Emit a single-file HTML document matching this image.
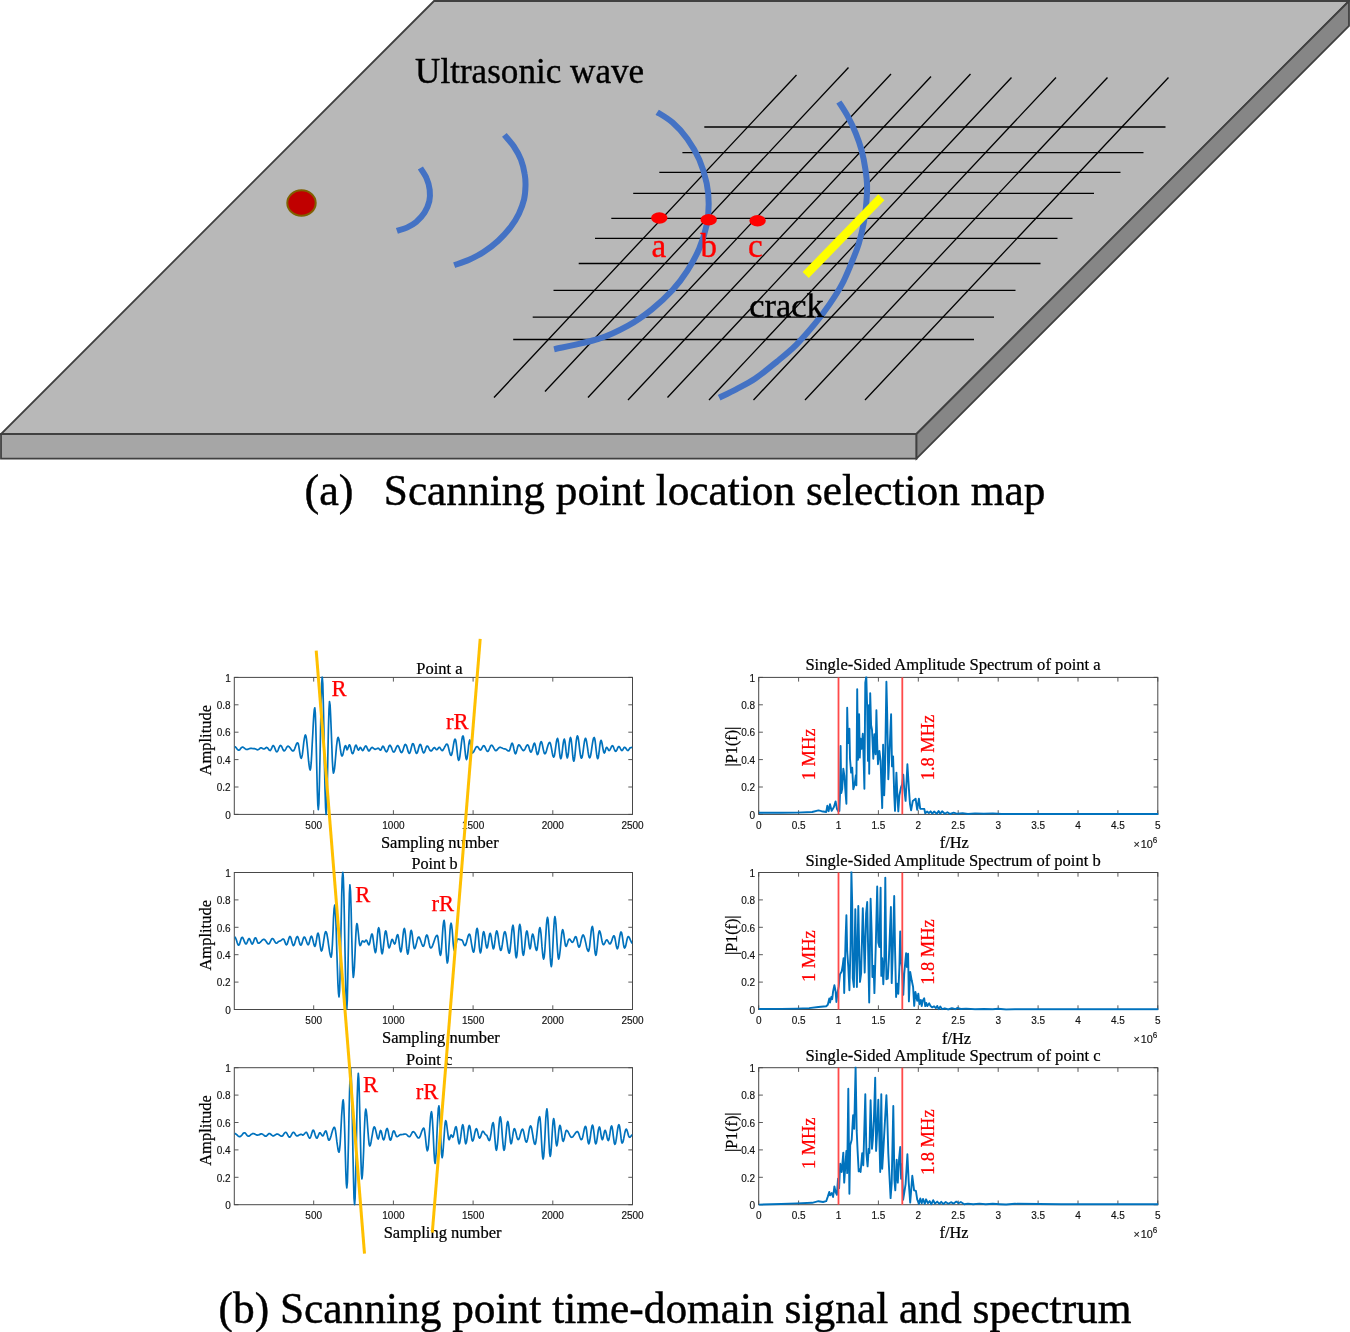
<!DOCTYPE html>
<html lang="en"><head><meta charset="utf-8"><title>Scanning point figure</title>
<style>
html,body{margin:0;padding:0;background:#fff;}
body{width:1350px;height:1332px;overflow:hidden;}
svg{display:block;font-family:"Liberation Serif","Times New Roman",serif;}
.sans{font-family:"Liberation Sans",Arial,sans-serif;}
</style></head><body>
<svg width="1350" height="1332" viewBox="0 0 1350 1332">
<rect x="0" y="0" width="1350" height="1332" fill="#ffffff"/>
<g stroke="#404040" stroke-width="1.8" stroke-linejoin="miter">
<polygon points="434,1 1349,1 916.5,434 1,434" fill="#b8b8b8"/>
<polygon points="1,434 916.5,434 916.5,458.6 1,458.6" fill="#a6a6a6"/>
<polygon points="916.5,434 1349,1 1349,26 916.5,458.6" fill="#868686"/>
</g>
<g stroke="#000" stroke-width="1.3" fill="none">
<line x1="704.3" y1="127.0" x2="1165.5" y2="127.0"/>
<line x1="682.4" y1="152.6" x2="1143.5" y2="152.6"/>
<line x1="659.3" y1="172.4" x2="1120.5" y2="172.4"/>
<line x1="633.2" y1="193.4" x2="1094.0" y2="193.4"/>
<line x1="611.3" y1="218.4" x2="1072.5" y2="218.4"/>
<line x1="595.0" y1="238.4" x2="1057.5" y2="238.4"/>
<line x1="578.7" y1="263.5" x2="1040.5" y2="263.5"/>
<line x1="553.5" y1="290.3" x2="1015.5" y2="290.3"/>
<line x1="532.7" y1="317.2" x2="994.0" y2="317.2"/>
<line x1="513.2" y1="339.5" x2="974.0" y2="339.5"/>
<line x1="494.0" y1="397.5" x2="796.5" y2="75.0"/>
<line x1="545.0" y1="391.5" x2="848.5" y2="67.5"/>
<line x1="588.0" y1="397.5" x2="891.0" y2="74.0"/>
<line x1="628.0" y1="400.0" x2="931.0" y2="76.5"/>
<line x1="667.5" y1="397.5" x2="970.5" y2="74.0"/>
<line x1="709.0" y1="400.0" x2="1011.5" y2="77.5"/>
<line x1="753.5" y1="400.0" x2="1056.0" y2="77.5"/>
<line x1="805.0" y1="400.0" x2="1107.5" y2="77.5"/>
<line x1="865.0" y1="400.0" x2="1168.5" y2="77.5"/>
</g>
<g stroke="#4472c4" stroke-width="6" fill="none">
<path d="M420.4 168.1C421.4 169.8 425.1 174.8 426.6 178.4C428.2 182.0 429.2 186.1 429.7 189.9C430.1 193.7 430.2 197.5 429.3 201.3C428.4 205.1 426.7 209.2 424.5 212.7C422.3 216.1 419.1 219.5 416.2 222.0C413.3 224.5 410.1 226.1 406.9 227.6C403.7 229.1 398.6 230.3 396.9 230.9"/>
<path d="M504.4 134.9C505.9 136.8 510.9 142.2 513.7 146.3C516.5 150.5 519.2 155.1 521.0 159.8C522.8 164.5 524.0 170.0 524.7 174.3C525.5 178.6 525.6 181.5 525.5 185.7C525.4 189.8 525.2 194.5 524.1 199.2C523.0 203.9 521.1 209.0 518.9 213.7C516.6 218.4 514.1 222.7 510.6 227.2C507.2 231.7 502.7 236.5 498.2 240.7C493.7 244.8 488.5 248.9 483.6 252.1C478.8 255.3 474.0 257.6 469.1 259.8C464.2 262.0 456.7 264.3 454.2 265.2"/>
<path d="M657.2 112.2C659.8 113.9 667.6 118.1 672.6 122.6C677.6 127.0 683.0 132.7 687.4 138.9C691.8 145.1 696.1 152.2 699.3 159.6C702.5 167.0 705.1 175.9 706.7 183.3C708.3 190.7 708.7 197.2 708.7 204.1C708.7 211.0 708.3 217.4 706.7 224.8C705.1 232.2 702.5 240.8 699.3 248.5C696.1 256.1 691.8 263.8 687.4 270.7C683.0 277.6 678.5 283.6 672.6 290.0C666.7 296.4 659.3 303.4 651.9 309.3C644.5 315.2 637.0 320.7 628.1 325.6C619.2 330.5 610.8 334.9 598.5 338.9C586.2 342.8 561.5 347.6 554.1 349.3"/>
<path d="M838.9 102.0C840.4 104.4 845.0 111.2 847.8 116.4C850.6 121.6 853.5 127.7 855.8 133.3C858.1 138.9 859.9 144.1 861.5 150.1C863.1 156.1 864.5 163.3 865.4 169.3C866.3 175.3 867.0 180.6 867.1 186.2C867.2 191.8 866.8 197.0 866.3 203.0C865.8 209.0 865.2 215.4 863.9 222.2C862.6 229.0 860.8 237.0 858.7 243.8C856.6 250.6 854.2 256.3 851.4 263.1C848.6 269.9 845.4 277.9 841.8 284.7C838.2 291.5 834.2 297.5 829.8 303.9C825.4 310.3 821.0 316.4 815.4 323.2C809.8 330.0 802.6 338.4 796.2 344.8C789.8 351.2 783.7 356.0 776.9 361.6C770.1 367.2 762.1 373.9 755.3 378.5C748.5 383.1 742.1 386.1 736.1 389.3C730.1 392.5 722.0 396.3 719.2 397.7"/>
</g>
<line x1="881.4" y1="197.2" x2="805.7" y2="275" stroke="#ffff00" stroke-width="8.6"/>
<ellipse cx="301.5" cy="203" rx="14.2" ry="12.8" fill="#c00000" stroke="#7f6000" stroke-width="2"/>
<ellipse cx="659.3" cy="218.0" rx="8.2" ry="5.7" fill="#ff0000"/>
<ellipse cx="708.7" cy="219.8" rx="8.2" ry="5.7" fill="#ff0000"/>
<ellipse cx="757.6" cy="220.7" rx="8.2" ry="5.7" fill="#ff0000"/>
<text x="415.1" y="82.8" font-size="35.1" stroke="#000" stroke-width="0.4" textLength="229" lengthAdjust="spacingAndGlyphs">Ultrasonic wave</text>
<text x="749.3" y="317.2" font-size="34.6" stroke="#000" stroke-width="0.4" textLength="74.5" lengthAdjust="spacingAndGlyphs">crack</text>
<g fill="#ff0000" font-size="33" stroke="#ff0000" stroke-width="0.35">
<text x="651.5" y="256.5">a</text><text x="700.5" y="256.5">b</text><text x="748" y="256.5">c</text>
</g>
<text x="304.5" y="505" font-size="44.2" stroke="#000" stroke-width="0.45">(a)</text>
<text x="383.8" y="505" font-size="44.2" stroke="#000" stroke-width="0.45" textLength="661.5" lengthAdjust="spacingAndGlyphs">Scanning point location selection map</text>
<rect x="234.3" y="677.4" width="398.2" height="137.0" fill="#fff" stroke="none"/>
<path d="M234.3 814.4 h4.2 M632.5 814.4 h-4.2 M234.3 787.0 h4.2 M632.5 787.0 h-4.2 M234.3 759.6 h4.2 M632.5 759.6 h-4.2 M234.3 732.2 h4.2 M632.5 732.2 h-4.2 M234.3 704.8 h4.2 M632.5 704.8 h-4.2 M234.3 677.4 h4.2 M632.5 677.4 h-4.2 M313.7 814.4 v-4.2 M313.7 677.4 v4.2 M393.4 814.4 v-4.2 M393.4 677.4 v4.2 M473.1 814.4 v-4.2 M473.1 677.4 v4.2 M552.8 814.4 v-4.2 M552.8 677.4 v4.2 M632.5 814.4 v-4.2 M632.5 677.4 v4.2" stroke="#484848" stroke-width="0.9" fill="none"/>
<g class="sans" font-size="10" fill="#111" stroke="#111" stroke-width="0.15">
<text x="230.7" y="818.6" text-anchor="end">0</text>
<text x="230.7" y="791.2" text-anchor="end">0.2</text>
<text x="230.7" y="763.8" text-anchor="end">0.4</text>
<text x="230.7" y="736.4" text-anchor="end">0.6</text>
<text x="230.7" y="709.0" text-anchor="end">0.8</text>
<text x="230.7" y="681.6" text-anchor="end">1</text>
<text x="313.7" y="829.0" text-anchor="middle">500</text>
<text x="393.4" y="829.0" text-anchor="middle">1000</text>
<text x="473.1" y="829.0" text-anchor="middle">1500</text>
<text x="552.8" y="829.0" text-anchor="middle">2000</text>
<text x="632.5" y="829.0" text-anchor="middle">2500</text>
</g>
<clipPath id="cl0"><rect x="234.3" y="676.4" width="398.2" height="139.0"/></clipPath>
<rect x="234.3" y="677.4" width="398.2" height="137.0" fill="none" stroke="#484848" stroke-width="1"/>
<polyline fill="none" stroke="#0072bd" stroke-width="1.7" stroke-linejoin="round" clip-path="url(#cl0)" points="234.6,746.7 235.1,746.8 235.7,747.2 236.2,747.8 236.7,748.5 237.2,749.1 237.7,749.7 238.2,750.1 238.7,750.2 239.2,750.1 239.8,749.7 240.3,749.0 240.8,748.3 241.4,747.7 241.9,747.3 242.4,747.1 243.0,747.2 243.5,747.5 244.1,747.9 244.6,748.3 245.1,748.7 245.7,749.1 246.2,749.4 246.8,749.5 247.3,749.4 247.9,749.3 248.4,749.0 249.0,748.8 249.6,748.6 250.1,748.4 250.7,748.4 251.2,748.4 251.8,748.4 252.3,748.5 252.9,748.6 253.4,748.6 254.0,748.7 254.6,748.7 255.1,748.8 255.6,749.0 256.1,749.2 256.6,749.5 257.1,749.7 257.7,749.8 258.2,749.6 258.8,749.3 259.4,748.8 259.9,748.3 260.5,747.9 261.1,747.8 261.6,747.9 262.2,748.2 262.8,748.6 263.3,748.9 263.9,749.0 264.4,748.9 265.0,748.5 265.6,748.0 266.1,747.6 266.7,747.4 267.3,747.7 267.8,748.2 268.4,749.0 269.0,749.8 269.5,750.3 270.1,750.6 270.6,750.2 271.1,749.3 271.7,748.1 272.2,746.8 272.7,745.9 273.2,745.6 273.7,745.9 274.2,746.7 274.8,748.0 275.3,749.4 275.8,750.6 276.3,751.5 276.8,751.8 277.3,751.5 277.9,750.6 278.4,749.3 278.9,747.9 279.5,746.6 280.0,745.7 280.5,745.4 281.0,745.7 281.6,746.4 282.1,747.5 282.6,748.7 283.1,749.8 283.6,750.6 284.1,750.9 284.7,750.6 285.2,750.0 285.8,749.1 286.3,748.0 286.9,747.1 287.4,746.4 288.0,746.2 288.5,746.3 289.0,746.7 289.5,747.2 290.1,747.9 290.6,748.6 291.1,749.4 291.6,750.0 292.1,750.6 292.6,750.9 293.1,751.0 293.6,750.8 294.1,750.1 294.6,749.0 295.1,747.6 295.6,746.2 296.1,744.8 296.6,743.7 297.1,743.0 297.6,742.8 298.2,743.5 298.7,745.7 299.2,748.8 299.7,752.3 300.2,755.4 300.7,757.6 301.2,758.3 301.7,757.4 302.3,754.9 302.8,751.1 303.3,746.7 303.8,742.2 304.4,738.4 304.9,735.9 305.4,735.0 306.0,736.1 306.5,739.1 307.0,743.7 307.6,749.5 308.1,755.5 308.6,761.2 309.2,765.9 309.7,768.9 310.2,770.0 310.7,768.1 311.2,762.7 311.7,754.4 312.2,744.3 312.8,733.5 313.3,723.3 313.8,715.1 314.3,709.7 314.8,707.8 315.3,712.8 315.8,727.0 316.3,747.4 316.8,770.1 317.3,790.5 317.8,804.6 318.3,809.7 318.9,803.1 319.4,784.6 320.0,758.0 320.6,728.4 321.1,701.7 321.7,683.3 322.2,676.7 322.8,683.5 323.3,702.6 323.9,730.3 324.4,761.0 325.0,788.7 325.6,807.8 326.1,814.6 326.7,807.1 327.3,786.4 327.8,758.1 328.4,729.8 329.0,709.1 329.5,701.6 330.1,705.1 330.6,715.0 331.2,729.4 331.8,745.3 332.3,759.6 332.9,769.6 333.4,773.1 333.9,772.0 334.5,768.9 335.0,764.2 335.5,758.3 336.0,752.1 336.5,746.3 337.1,741.5 337.6,738.4 338.1,737.3 338.6,738.3 339.2,740.8 339.8,744.6 340.3,748.7 340.9,752.5 341.4,755.1 342.0,756.0 342.5,755.5 343.0,754.0 343.5,751.9 344.0,749.6 344.5,747.5 345.0,746.1 345.6,745.6 346.1,746.6 346.6,748.7 347.1,749.8 347.7,749.0 348.3,747.3 348.9,745.5 349.4,744.8 350.0,745.4 350.5,747.0 351.0,749.2 351.5,751.4 352.0,753.1 352.6,753.7 353.1,753.1 353.7,751.5 354.3,749.4 354.8,747.2 355.4,745.7 356.0,745.1 356.6,745.9 357.2,747.7 357.8,749.5 358.5,750.2 359.1,749.5 359.7,748.1 360.3,747.4 360.9,747.9 361.5,749.0 362.1,750.1 362.7,750.6 363.2,750.2 363.7,749.4 364.2,748.2 364.7,747.1 365.3,746.2 365.8,745.9 366.3,746.2 366.8,747.2 367.3,748.5 367.9,749.7 368.4,750.7 368.9,751.0 369.4,750.8 369.9,750.1 370.4,749.2 371.0,748.3 371.5,747.7 372.0,747.4 372.5,747.6 373.0,747.9 373.6,748.4 374.1,748.8 374.6,749.2 375.1,749.3 375.6,749.2 376.1,749.0 376.7,748.8 377.2,748.5 377.7,748.3 378.2,748.2 378.8,748.5 379.4,749.2 380.0,749.9 380.6,750.2 381.1,749.7 381.7,748.2 382.3,746.8 382.9,746.2 383.4,746.5 383.9,747.3 384.4,748.4 384.9,749.6 385.4,750.7 386.0,751.5 386.5,751.8 387.0,751.4 387.6,750.2 388.2,748.5 388.7,746.9 389.3,745.7 389.9,745.3 390.4,745.6 391.0,746.6 391.6,747.9 392.1,749.5 392.7,750.8 393.2,751.8 393.8,752.1 394.3,751.8 394.9,750.9 395.4,749.6 396.0,748.1 396.6,746.8 397.1,745.9 397.7,745.6 398.2,745.9 398.8,746.9 399.3,748.3 399.9,749.9 400.4,751.3 401.0,752.2 401.6,752.6 402.1,752.2 402.7,751.0 403.2,749.4 403.8,747.5 404.3,745.9 404.9,744.7 405.4,744.3 406.0,744.8 406.6,746.0 407.1,747.8 407.7,749.8 408.2,751.7 408.8,752.9 409.3,753.4 409.8,752.9 410.4,751.5 410.9,749.5 411.4,747.4 411.9,745.4 412.4,744.0 412.9,743.6 413.4,744.0 414.0,745.4 414.5,747.4 415.0,749.5 415.6,751.5 416.1,752.9 416.6,753.4 417.2,752.9 417.7,751.7 418.2,749.8 418.7,747.8 419.2,746.0 419.7,744.8 420.2,744.3 420.8,744.9 421.4,746.5 421.9,748.6 422.5,750.7 423.1,752.3 423.6,752.9 424.2,752.5 424.7,751.6 425.2,750.2 425.7,748.7 426.2,747.3 426.8,746.3 427.3,746.0 427.8,746.2 428.3,746.9 428.8,748.0 429.3,749.1 429.8,750.1 430.4,750.8 430.9,751.0 431.4,750.9 431.9,750.4 432.4,749.7 432.9,749.0 433.4,748.3 433.9,747.8 434.5,747.6 435.0,747.9 435.6,748.7 436.2,749.4 436.7,749.7 437.3,749.5 437.8,748.9 438.3,748.1 438.8,747.5 439.3,747.3 439.9,747.6 440.4,748.4 441.0,749.4 441.6,750.2 442.1,750.6 442.7,750.4 443.2,749.8 443.7,748.9 444.3,747.9 444.8,746.7 445.4,745.7 445.9,744.8 446.5,744.2 447.0,744.0 447.5,744.5 448.0,745.7 448.5,747.6 449.0,749.7 449.5,751.9 450.1,753.8 450.6,755.0 451.1,755.4 451.6,754.8 452.1,753.1 452.6,750.4 453.1,747.3 453.6,744.2 454.1,741.5 454.6,739.8 455.1,739.1 455.7,740.2 456.2,743.1 456.7,747.4 457.2,752.1 457.7,756.3 458.2,759.3 458.7,760.3 459.3,759.4 459.8,756.8 460.3,752.8 460.9,748.1 461.4,743.4 461.9,739.5 462.4,736.8 463.0,735.9 463.5,737.1 464.0,740.3 464.5,745.1 465.0,750.3 465.5,755.1 466.0,758.3 466.6,759.5 467.1,758.2 467.6,754.6 468.2,749.7 468.7,744.9 469.3,741.3 469.8,740.0 470.4,741.9 471.0,746.5 471.6,751.1 472.3,753.0 472.8,752.8 473.3,752.2 473.9,751.4 474.4,750.3 475.0,749.2 475.5,748.1 476.1,747.2 476.6,746.7 477.1,746.5 477.7,746.7 478.2,747.4 478.8,748.3 479.3,749.2 479.9,749.8 480.4,750.1 481.0,749.8 481.5,749.0 482.0,747.9 482.6,746.8 483.1,746.0 483.7,745.7 484.2,745.9 484.7,746.5 485.2,747.4 485.7,748.5 486.2,749.6 486.7,750.5 487.2,751.2 487.7,751.4 488.3,751.1 488.8,750.2 489.3,749.0 489.9,747.6 490.4,746.3 491.0,745.5 491.5,745.2 492.0,745.4 492.6,746.0 493.1,746.8 493.7,747.9 494.2,748.9 494.8,749.8 495.3,750.4 495.9,750.6 496.4,750.4 496.9,750.1 497.4,749.5 497.9,748.9 498.4,748.3 498.9,747.8 499.5,747.4 500.0,747.3 500.5,747.3 501.0,747.5 501.6,747.7 502.1,748.0 502.7,748.3 503.2,748.5 503.8,748.7 504.3,748.9 504.9,748.9 505.4,749.0 505.9,749.2 506.4,749.6 506.9,750.0 507.4,750.4 507.9,750.7 508.4,751.0 508.9,751.0 509.5,750.5 510.0,749.1 510.6,747.1 511.1,745.2 511.6,743.7 512.2,743.2 512.7,743.9 513.3,745.9 513.8,748.5 514.4,751.2 514.9,753.1 515.4,753.8 516.0,753.2 516.5,751.6 517.1,749.3 517.6,747.1 518.2,745.5 518.7,744.9 519.2,745.0 519.8,745.5 520.3,746.3 520.9,747.2 521.4,748.2 522.0,749.1 522.5,749.9 523.0,750.4 523.6,750.6 524.1,750.3 524.6,749.7 525.1,748.8 525.6,747.7 526.1,746.6 526.6,745.7 527.2,745.1 527.7,744.9 528.2,745.3 528.8,746.7 529.3,748.5 529.8,750.4 530.4,751.7 530.9,752.2 531.4,751.7 531.9,750.5 532.5,748.7 533.0,746.7 533.5,744.9 534.0,743.7 534.5,743.2 535.1,744.3 535.7,747.2 536.3,750.7 536.9,753.5 537.4,754.6 538.0,754.0 538.5,752.2 539.1,749.6 539.6,746.7 540.1,744.0 540.7,742.2 541.2,741.6 541.7,742.2 542.2,743.9 542.7,746.3 543.2,749.1 543.8,751.5 544.3,753.2 544.8,753.8 545.3,753.5 545.9,752.5 546.4,751.0 546.9,749.1 547.5,747.1 548.0,745.3 548.6,743.7 549.1,742.8 549.7,742.4 550.2,743.0 550.7,744.6 551.2,746.9 551.7,749.7 552.2,752.5 552.7,754.9 553.2,756.5 553.7,757.1 554.3,756.1 554.8,753.5 555.3,749.8 555.9,745.6 556.4,741.9 557.0,739.3 557.5,738.3 558.0,739.7 558.6,743.4 559.1,748.5 559.7,753.6 560.2,757.3 560.7,758.7 561.3,757.7 561.8,755.0 562.3,751.1 562.8,746.7 563.3,742.8 563.8,740.1 564.3,739.1 564.9,740.9 565.5,745.6 566.1,751.4 566.7,756.1 567.3,757.9 567.8,756.5 568.4,752.8 568.9,747.7 569.4,742.6 570.0,738.9 570.5,737.5 571.1,739.1 571.6,743.4 572.2,749.3 572.7,755.2 573.2,759.6 573.8,761.1 574.3,759.9 574.8,756.4 575.3,751.3 575.8,745.7 576.3,740.6 576.9,737.1 577.4,735.9 577.9,736.7 578.4,739.2 578.9,742.8 579.4,747.1 579.9,751.3 580.4,754.9 580.9,757.4 581.4,758.2 582.0,757.5 582.5,755.3 583.0,752.1 583.5,748.3 584.0,744.5 584.5,741.2 585.0,739.1 585.5,738.3 586.0,739.1 586.5,741.2 587.0,744.4 587.6,748.1 588.1,751.9 588.6,755.0 589.1,757.1 589.6,757.9 590.1,757.3 590.6,755.5 591.1,752.8 591.6,749.5 592.1,745.9 592.6,742.6 593.1,739.9 593.6,738.1 594.2,737.5 594.7,738.6 595.2,741.5 595.7,745.8 596.2,750.5 596.7,754.7 597.2,757.7 597.7,758.7 598.3,757.5 598.8,754.1 599.4,749.5 599.9,744.9 600.5,741.5 601.0,740.3 601.5,741.1 602.1,743.5 602.6,746.6 603.2,749.8 603.7,752.1 604.3,753.0 604.9,752.2 605.5,750.1 606.1,748.1 606.7,747.3 607.3,747.8 607.9,748.9 608.5,750.1 609.1,750.6 609.7,750.2 610.2,749.3 610.8,748.1 611.3,746.9 611.9,746.0 612.4,745.7 612.9,746.0 613.5,747.1 614.0,748.5 614.6,749.9 615.1,751.0 615.7,751.4 616.2,751.0 616.8,750.1 617.3,748.9 617.8,747.7 618.4,746.8 618.9,746.5 619.5,746.9 620.1,747.9 620.7,749.1 621.3,750.2 621.9,750.6 622.4,750.2 623.0,749.4 623.5,748.4 624.1,747.6 624.6,747.3 625.2,747.5 625.7,748.1 626.3,748.9 626.8,749.7 627.3,750.3 627.9,750.6 628.5,750.1 629.1,749.2 629.7,748.2 630.3,747.8 630.9,747.7 631.4,747.5 631.9,747.4 632.5,747.3"/>
<rect x="758.7" y="677.4" width="399.1" height="137.0" fill="#fff" stroke="none"/>
<path d="M758.7 814.4 h4.2 M1157.8 814.4 h-4.2 M758.7 787.0 h4.2 M1157.8 787.0 h-4.2 M758.7 759.6 h4.2 M1157.8 759.6 h-4.2 M758.7 732.2 h4.2 M1157.8 732.2 h-4.2 M758.7 704.8 h4.2 M1157.8 704.8 h-4.2 M758.7 677.4 h4.2 M1157.8 677.4 h-4.2 M758.7 814.4 v-4.2 M758.7 677.4 v4.2 M798.6 814.4 v-4.2 M798.6 677.4 v4.2 M838.5 814.4 v-4.2 M838.5 677.4 v4.2 M878.4 814.4 v-4.2 M878.4 677.4 v4.2 M918.3 814.4 v-4.2 M918.3 677.4 v4.2 M958.2 814.4 v-4.2 M958.2 677.4 v4.2 M998.2 814.4 v-4.2 M998.2 677.4 v4.2 M1038.1 814.4 v-4.2 M1038.1 677.4 v4.2 M1078.0 814.4 v-4.2 M1078.0 677.4 v4.2 M1117.9 814.4 v-4.2 M1117.9 677.4 v4.2 M1157.8 814.4 v-4.2 M1157.8 677.4 v4.2" stroke="#484848" stroke-width="0.9" fill="none"/>
<g class="sans" font-size="10" fill="#111" stroke="#111" stroke-width="0.15">
<text x="755.1" y="818.6" text-anchor="end">0</text>
<text x="755.1" y="791.2" text-anchor="end">0.2</text>
<text x="755.1" y="763.8" text-anchor="end">0.4</text>
<text x="755.1" y="736.4" text-anchor="end">0.6</text>
<text x="755.1" y="709.0" text-anchor="end">0.8</text>
<text x="755.1" y="681.6" text-anchor="end">1</text>
<text x="758.7" y="829.0" text-anchor="middle">0</text>
<text x="798.6" y="829.0" text-anchor="middle">0.5</text>
<text x="838.5" y="829.0" text-anchor="middle">1</text>
<text x="878.4" y="829.0" text-anchor="middle">1.5</text>
<text x="918.3" y="829.0" text-anchor="middle">2</text>
<text x="958.2" y="829.0" text-anchor="middle">2.5</text>
<text x="998.2" y="829.0" text-anchor="middle">3</text>
<text x="1038.1" y="829.0" text-anchor="middle">3.5</text>
<text x="1078.0" y="829.0" text-anchor="middle">4</text>
<text x="1117.9" y="829.0" text-anchor="middle">4.5</text>
<text x="1157.8" y="829.0" text-anchor="middle">5</text>
</g>
<clipPath id="cr0"><rect x="758.7" y="676.4" width="400.1" height="139.2"/></clipPath>
<rect x="758.7" y="677.4" width="399.1" height="137.0" fill="none" stroke="#484848" stroke-width="1"/>
<polyline fill="none" stroke="#0072bd" stroke-width="1.9" stroke-linejoin="round" clip-path="url(#cr0)" points="758.6,812.8 781.1,812.8 796.7,812.6 812.2,812.0 818.4,810.4 821.6,811.2 826.2,812.0 827.3,805.8 828.6,811.2 830.0,804.2 831.7,810.9 833.9,807.0 835.6,801.4 836.9,808.7 838.3,811.4 839.4,810.9 840.0,794.2 840.6,745.9 841.3,793.1 842.2,788.7 843.3,768.7 844.4,775.9 845.3,789.8 846.4,803.7 847.2,707.8 848.0,743.1 849.4,728.7 850.0,758.7 851.1,772.6 852.2,767.6 853.3,789.2 854.7,784.2 855.8,775.3 856.4,785.3 857.2,689.2 858.0,759.8 859.1,714.2 859.8,757.6 860.6,738.7 861.7,748.7 862.8,733.7 863.3,747.6 864.4,788.7 865.3,682.6 866.3,676.7 867.2,708.7 868.0,760.9 868.9,705.3 869.2,773.7 870.2,693.1 871.1,725.3 872.0,729.8 873.3,758.7 874.4,734.2 875.6,754.2 876.4,710.3 877.2,743.1 878.0,764.2 879.4,750.9 880.6,760.9 881.3,783.1 882.2,808.1 883.1,744.8 884.2,795.3 885.0,772.0 886.4,681.8 887.2,714.2 888.3,779.2 889.4,754.2 891.1,714.2 892.0,766.4 893.1,756.4 894.2,794.2 895.0,810.9 896.4,772.6 897.2,792.0 898.3,811.4 899.4,795.3 901.1,787.0 902.2,784.2 903.3,774.8 904.2,788.7 905.6,800.9 907.4,764.2 908.9,788.7 910.0,804.2 911.1,810.3 912.8,800.9 915.6,798.7 917.2,809.8 918.9,798.7 920.2,808.7 924.3,808.9 925.2,813.3 927.0,811.6 928.8,813.1 930.6,811.3 932.3,813.6 934.1,811.6 936.8,813.8 938.6,811.1 940.3,813.6 942.1,811.3 944.8,813.8 947.4,812.2 950.1,814.0 953.7,812.7 957.2,813.8 962.6,813.1 967.9,814.0 975.0,813.4 983.9,813.8 992.8,813.4 1001.7,814.0 1015.0,814.0 1061.1,814.0 1107.8,814.0 1158.3,814.0"/>
<line x1="838.5" y1="677.4" x2="838.5" y2="814.4" stroke="#ff4a4a" stroke-width="1.8"/>
<line x1="902.3" y1="677.4" x2="902.3" y2="814.4" stroke="#ff4a4a" stroke-width="1.8"/>
<text class="sans" font-size="10.8" fill="#111" stroke="#111" stroke-width="0.15" y="847.5"><tspan x="1133.4">×</tspan><tspan x="1140.8">10</tspan><tspan x="1152.7" font-size="8.2" dy="-4.8">6</tspan></text>
<text x="416.3" y="673.6" font-size="16.4" textLength="46.3" lengthAdjust="spacingAndGlyphs" stroke="#000" stroke-width="0.22">Point a</text>
<text x="380.9" y="848.4" font-size="16.5" textLength="117.8" lengthAdjust="spacingAndGlyphs" stroke="#000" stroke-width="0.22">Sampling number</text>
<text transform="translate(211.4 775.5) rotate(-90)" font-size="16.5" textLength="70.6" lengthAdjust="spacingAndGlyphs" stroke="#000" stroke-width="0.22">Amplitude</text>
<text x="805.4" y="670.4" font-size="16.5" textLength="295.3" lengthAdjust="spacingAndGlyphs" stroke="#000" stroke-width="0.22">Single-Sided Amplitude Spectrum of point a</text>
<text x="939.8" y="848.3" font-size="16.5" textLength="29" lengthAdjust="spacingAndGlyphs" stroke="#000" stroke-width="0.22">f/Hz</text>
<text transform="translate(737 766.4) rotate(-90)" font-size="16.5" textLength="39.7" lengthAdjust="spacingAndGlyphs" stroke="#000" stroke-width="0.22">|P1(f)|</text>
<rect x="234.3" y="872.5" width="398.2" height="137.0" fill="#fff" stroke="none"/>
<path d="M234.3 1009.5 h4.2 M632.5 1009.5 h-4.2 M234.3 982.1 h4.2 M632.5 982.1 h-4.2 M234.3 954.7 h4.2 M632.5 954.7 h-4.2 M234.3 927.3 h4.2 M632.5 927.3 h-4.2 M234.3 899.9 h4.2 M632.5 899.9 h-4.2 M234.3 872.5 h4.2 M632.5 872.5 h-4.2 M313.7 1009.5 v-4.2 M313.7 872.5 v4.2 M393.4 1009.5 v-4.2 M393.4 872.5 v4.2 M473.1 1009.5 v-4.2 M473.1 872.5 v4.2 M552.8 1009.5 v-4.2 M552.8 872.5 v4.2 M632.5 1009.5 v-4.2 M632.5 872.5 v4.2" stroke="#484848" stroke-width="0.9" fill="none"/>
<g class="sans" font-size="10" fill="#111" stroke="#111" stroke-width="0.15">
<text x="230.7" y="1013.7" text-anchor="end">0</text>
<text x="230.7" y="986.3" text-anchor="end">0.2</text>
<text x="230.7" y="958.9" text-anchor="end">0.4</text>
<text x="230.7" y="931.5" text-anchor="end">0.6</text>
<text x="230.7" y="904.1" text-anchor="end">0.8</text>
<text x="230.7" y="876.7" text-anchor="end">1</text>
<text x="313.7" y="1024.1" text-anchor="middle">500</text>
<text x="393.4" y="1024.1" text-anchor="middle">1000</text>
<text x="473.1" y="1024.1" text-anchor="middle">1500</text>
<text x="552.8" y="1024.1" text-anchor="middle">2000</text>
<text x="632.5" y="1024.1" text-anchor="middle">2500</text>
</g>
<clipPath id="cl1"><rect x="234.3" y="871.5" width="398.2" height="139.0"/></clipPath>
<rect x="234.3" y="872.5" width="398.2" height="137.0" fill="none" stroke="#484848" stroke-width="1"/>
<polyline fill="none" stroke="#0072bd" stroke-width="1.7" stroke-linejoin="round" clip-path="url(#cl1)" points="234.6,937.0 235.1,937.3 235.7,938.2 236.2,939.5 236.7,941.1 237.2,942.7 237.7,944.0 238.2,944.9 238.7,945.2 239.3,944.7 239.8,943.3 240.4,941.3 241.0,939.3 241.5,937.8 242.1,937.3 242.7,937.6 243.2,938.6 243.8,939.9 244.3,941.4 244.9,942.7 245.4,943.7 246.0,944.0 246.5,943.6 247.0,942.6 247.6,941.3 248.1,939.9 248.6,938.9 249.1,938.6 249.6,938.9 250.1,939.9 250.7,941.3 251.2,942.6 251.7,943.6 252.2,944.0 252.7,943.6 253.3,942.4 253.8,940.9 254.3,939.3 254.8,938.2 255.3,937.8 255.9,938.1 256.4,939.1 256.9,940.5 257.4,941.9 257.9,942.9 258.4,943.2 259.0,943.1 259.5,942.9 260.1,942.4 260.6,941.9 261.2,941.3 261.7,940.7 262.3,940.1 262.8,939.7 263.3,939.4 263.9,939.3 264.4,939.5 264.9,939.9 265.4,940.5 266.0,941.3 266.5,942.1 267.0,942.8 267.5,943.5 268.0,943.9 268.6,944.0 269.1,943.7 269.7,943.0 270.2,941.9 270.8,940.7 271.3,939.6 271.9,938.8 272.4,938.6 273.0,938.8 273.6,939.4 274.1,940.4 274.7,941.4 275.2,942.3 275.8,943.0 276.3,943.2 276.9,943.1 277.4,942.7 277.9,942.2 278.4,941.7 278.9,941.3 279.4,941.2 280.0,941.1 280.6,940.8 281.1,940.4 281.7,939.9 282.2,939.4 282.8,939.1 283.3,939.0 283.9,939.4 284.4,940.5 284.9,941.9 285.4,943.3 285.9,944.4 286.4,944.8 287.0,944.4 287.5,943.2 288.0,941.6 288.5,939.7 289.0,938.1 289.5,936.9 290.0,936.5 290.6,937.1 291.2,938.8 291.7,941.0 292.3,943.3 292.9,945.0 293.4,945.6 294.0,945.1 294.6,943.9 295.1,942.0 295.7,940.0 296.2,938.2 296.8,937.0 297.3,936.5 297.9,937.1 298.5,938.7 299.0,940.9 299.6,943.1 300.2,944.7 300.8,945.2 301.3,944.8 301.8,943.7 302.3,942.0 302.8,940.2 303.3,938.6 303.8,937.4 304.3,937.0 304.9,937.4 305.4,938.5 306.0,940.0 306.6,941.8 307.1,943.3 307.7,944.4 308.2,944.8 308.7,944.2 309.3,942.6 309.8,940.5 310.3,938.4 310.8,936.8 311.3,936.2 311.8,936.7 312.4,938.1 312.9,940.2 313.4,942.4 313.9,944.4 314.4,945.8 314.9,946.3 315.4,945.4 315.9,943.0 316.5,939.7 317.0,936.4 317.5,934.0 318.0,933.1 318.6,934.3 319.2,937.6 319.7,942.1 320.3,946.5 320.9,949.8 321.4,951.0 322.0,950.3 322.5,948.2 323.1,945.0 323.6,941.3 324.2,937.6 324.7,934.4 325.3,932.3 325.8,931.6 326.3,932.2 326.9,934.0 327.4,936.8 328.0,940.4 328.5,944.4 329.1,948.4 329.6,951.9 330.2,954.8 330.7,956.6 331.2,957.2 331.8,953.7 332.4,944.2 333.0,931.2 333.5,918.1 334.1,908.6 334.7,905.1 335.2,908.6 335.8,918.6 336.3,933.4 336.8,951.0 337.4,968.6 337.9,983.4 338.5,993.4 339.0,996.9 339.6,990.7 340.1,973.4 340.6,948.4 341.2,920.6 341.7,895.6 342.2,878.3 342.8,872.1 343.3,877.3 343.8,892.1 344.3,914.2 344.8,940.3 345.3,966.4 345.8,988.6 346.3,1003.4 346.8,1008.6 347.3,1000.3 347.8,977.6 348.4,946.7 348.9,915.8 349.4,893.2 349.9,884.9 350.5,891.1 351.1,908.0 351.6,931.2 352.2,954.3 352.8,971.2 353.3,977.4 353.8,974.8 354.4,967.3 354.9,956.5 355.4,944.4 355.9,933.6 356.4,926.1 356.9,923.5 357.4,924.9 357.9,929.0 358.5,934.5 359.0,940.0 359.5,944.1 360.0,945.6 360.6,945.1 361.1,943.9 361.6,942.5 362.1,941.3 362.7,940.9 363.2,941.2 363.7,941.8 364.2,942.1 364.7,941.8 365.2,941.1 365.7,940.4 366.2,940.1 366.8,940.6 367.3,941.7 367.8,943.2 368.4,944.3 368.9,944.8 369.4,944.0 369.9,942.1 370.4,939.3 371.0,936.6 371.5,934.6 372.0,933.9 372.6,935.1 373.1,938.6 373.7,943.2 374.3,947.9 374.9,951.3 375.4,952.6 376.0,950.9 376.5,946.3 377.1,940.1 377.6,933.9 378.1,929.3 378.7,927.7 379.3,929.4 379.8,934.2 380.4,940.7 381.0,947.3 381.5,952.0 382.1,953.8 382.6,952.7 383.1,949.5 383.6,944.8 384.2,939.7 384.7,935.1 385.2,931.9 385.7,930.8 386.3,931.9 386.8,935.1 387.4,939.3 388.0,943.6 388.5,946.7 389.1,947.9 389.6,947.3 390.1,945.7 390.7,943.6 391.2,941.5 391.7,939.9 392.2,939.3 392.8,940.0 393.4,941.7 394.0,943.3 394.6,944.0 395.1,943.4 395.6,941.7 396.1,939.3 396.6,937.0 397.1,935.3 397.7,934.7 398.2,935.8 398.7,938.9 399.2,943.2 399.7,947.5 400.3,950.6 400.8,951.8 401.3,950.6 401.8,947.4 402.3,942.7 402.8,937.5 403.3,932.8 403.8,929.6 404.4,928.4 404.9,930.2 405.5,934.9 406.1,941.3 406.6,947.7 407.2,952.4 407.8,954.1 408.3,952.5 408.9,948.2 409.5,942.2 410.1,936.3 410.6,931.9 411.2,930.3 411.7,931.5 412.3,934.9 412.8,939.5 413.4,944.1 413.9,947.4 414.5,948.7 415.0,948.2 415.5,947.0 416.0,945.1 416.6,942.8 417.1,940.6 417.6,938.7 418.1,937.4 418.7,937.0 419.2,937.3 419.7,938.1 420.2,939.3 420.7,940.9 421.3,942.5 421.8,944.0 422.3,945.2 422.8,946.1 423.3,946.3 423.9,945.6 424.5,943.5 425.1,940.6 425.6,937.8 426.2,935.7 426.8,935.0 427.4,935.6 427.9,937.4 428.5,940.0 429.0,942.9 429.6,945.5 430.1,947.4 430.7,948.0 431.2,947.8 431.7,947.3 432.2,946.4 432.7,945.3 433.2,943.9 433.7,942.4 434.2,940.9 434.7,939.4 435.2,938.0 435.7,936.9 436.2,936.0 436.7,935.5 437.2,935.3 437.8,936.6 438.3,940.3 438.9,945.3 439.4,950.3 439.9,954.0 440.5,955.3 441.0,953.6 441.5,948.7 442.0,941.7 442.5,933.9 443.0,926.9 443.6,922.0 444.1,920.3 444.6,923.2 445.2,931.0 445.7,941.6 446.2,952.3 446.8,960.1 447.3,963.0 447.9,961.0 448.4,955.5 448.9,947.5 449.5,938.7 450.0,930.7 450.5,925.2 451.1,923.2 451.6,925.1 452.2,930.0 452.7,936.8 453.2,943.6 453.8,948.6 454.3,950.4 454.9,949.7 455.4,947.6 456.0,944.7 456.5,941.9 457.0,939.8 457.6,939.0 458.1,939.1 458.6,939.2 459.1,939.3 459.6,939.4 460.1,939.6 460.6,939.7 461.2,939.8 461.7,939.9 462.2,940.2 462.8,941.3 463.3,942.7 463.8,944.1 464.4,945.2 464.9,945.6 465.5,945.1 466.0,943.9 466.6,942.0 467.1,939.9 467.7,937.7 468.2,935.8 468.8,934.6 469.3,934.1 469.9,934.8 470.4,936.8 470.9,939.7 471.4,943.1 472.0,946.5 472.5,949.4 473.0,951.4 473.6,952.1 474.1,950.9 474.6,947.6 475.1,942.9 475.6,937.6 476.1,932.9 476.6,929.6 477.1,928.4 477.7,930.1 478.2,934.6 478.8,940.7 479.3,946.8 479.9,951.3 480.4,952.9 481.0,951.5 481.5,947.6 482.0,942.3 482.6,937.0 483.1,933.1 483.7,931.7 484.2,932.8 484.8,935.8 485.3,939.9 485.8,943.9 486.4,946.9 486.9,948.0 487.5,947.0 488.0,944.3 488.6,940.7 489.1,937.0 489.6,934.3 490.2,933.3 490.7,934.4 491.3,937.2 491.8,941.1 492.4,944.9 492.9,947.8 493.4,948.8 494.0,947.6 494.5,944.3 495.1,939.9 495.6,935.4 496.2,932.1 496.7,930.9 497.2,931.6 497.7,933.8 498.2,936.9 498.7,940.7 499.2,944.4 499.8,947.6 500.3,949.7 500.8,950.4 501.3,949.7 501.8,947.7 502.3,944.7 502.8,941.1 503.3,937.5 503.8,934.4 504.3,932.4 504.9,931.7 505.4,932.5 506.0,934.9 506.5,938.3 507.1,942.5 507.6,946.6 508.2,950.1 508.7,952.4 509.3,953.2 509.8,951.8 510.3,947.9 510.9,942.3 511.4,936.1 511.9,930.5 512.5,926.6 513.0,925.2 513.5,927.4 514.1,933.3 514.6,941.5 515.2,949.6 515.7,955.6 516.3,957.8 516.8,956.1 517.3,951.5 517.8,944.8 518.3,937.4 518.8,930.7 519.3,926.0 519.8,924.4 520.4,926.4 521.0,932.1 521.6,939.9 522.1,947.6 522.7,953.3 523.3,955.3 523.8,954.1 524.3,950.7 524.8,945.8 525.3,940.4 525.8,935.5 526.3,932.1 526.9,930.9 527.4,932.1 527.9,935.4 528.5,939.9 529.0,944.3 529.6,947.6 530.1,948.8 530.7,946.7 531.3,941.5 531.9,936.3 532.6,934.1 533.1,934.8 533.6,936.5 534.1,939.2 534.6,942.3 535.1,945.4 535.6,948.1 536.1,949.8 536.6,950.4 537.2,948.9 537.7,944.7 538.3,939.0 538.8,933.3 539.3,929.2 539.9,927.6 540.4,929.2 541.0,933.6 541.5,939.9 542.0,946.9 542.6,953.2 543.1,957.5 543.6,959.1 544.2,957.0 544.8,951.2 545.3,942.9 545.9,933.6 546.4,925.2 547.0,919.4 547.5,917.4 548.1,919.8 548.6,926.7 549.2,936.6 549.7,947.5 550.2,957.4 550.8,964.3 551.3,966.7 551.8,964.3 552.3,957.3 552.8,947.3 553.3,936.2 553.9,926.1 554.4,919.2 554.9,916.7 555.4,918.8 556.0,924.7 556.5,933.2 557.0,942.6 557.6,951.1 558.1,957.0 558.6,959.1 559.1,958.0 559.6,954.8 560.2,950.0 560.7,944.4 561.2,938.8 561.7,934.0 562.2,930.9 562.7,929.7 563.2,930.9 563.8,933.9 564.3,938.1 564.9,942.2 565.4,945.3 566.0,946.4 566.5,945.9 567.0,944.5 567.6,942.7 568.1,940.9 568.7,939.5 569.2,939.0 569.8,939.3 570.3,939.9 570.9,940.7 571.4,941.5 571.9,942.1 572.5,942.3 573.0,941.9 573.6,940.9 574.1,939.4 574.7,938.0 575.2,937.0 575.7,936.6 576.3,937.3 576.8,939.2 577.4,941.9 577.9,944.5 578.5,946.5 579.0,947.2 579.5,946.7 580.0,945.4 580.5,943.4 581.0,941.1 581.5,938.7 582.1,936.8 582.6,935.4 583.1,935.0 583.6,935.4 584.1,936.5 584.7,938.3 585.2,940.6 585.8,943.1 586.3,945.6 586.8,947.9 587.4,949.7 587.9,950.9 588.5,951.3 589.0,950.0 589.6,946.6 590.1,941.6 590.7,936.1 591.2,931.2 591.8,927.7 592.4,926.5 592.9,928.4 593.5,933.7 594.1,940.9 594.6,948.1 595.2,953.4 595.8,955.3 596.3,954.1 596.8,950.7 597.3,945.8 597.8,940.4 598.3,935.5 598.9,932.1 599.4,930.9 599.9,931.4 600.4,932.9 600.9,935.2 601.4,937.8 601.9,940.5 602.4,942.7 602.9,944.2 603.4,944.7 604.0,944.4 604.5,943.5 605.1,942.3 605.6,941.1 606.2,940.2 606.7,939.9 607.2,940.1 607.8,940.9 608.3,941.9 608.9,942.9 609.4,943.7 610.0,943.9 610.5,943.6 611.0,942.7 611.5,941.4 612.0,939.9 612.5,938.3 613.0,937.0 613.5,936.1 614.0,935.8 614.6,936.7 615.1,939.0 615.7,942.3 616.2,945.6 616.8,947.9 617.3,948.8 617.8,948.0 618.4,945.7 618.9,942.3 619.4,938.6 620.0,935.2 620.5,932.9 621.0,932.0 621.6,932.8 622.1,935.0 622.6,938.2 623.1,941.8 623.6,945.0 624.1,947.2 624.6,948.0 625.1,947.4 625.7,945.9 626.2,943.6 626.7,941.0 627.2,938.7 627.7,937.2 628.2,936.6 628.7,936.8 629.3,937.5 629.8,938.6 630.3,939.9 630.9,941.1 631.4,942.2 631.9,942.9 632.5,943.1"/>
<rect x="758.7" y="872.5" width="399.1" height="137.0" fill="#fff" stroke="none"/>
<path d="M758.7 1009.5 h4.2 M1157.8 1009.5 h-4.2 M758.7 982.1 h4.2 M1157.8 982.1 h-4.2 M758.7 954.7 h4.2 M1157.8 954.7 h-4.2 M758.7 927.3 h4.2 M1157.8 927.3 h-4.2 M758.7 899.9 h4.2 M1157.8 899.9 h-4.2 M758.7 872.5 h4.2 M1157.8 872.5 h-4.2 M758.7 1009.5 v-4.2 M758.7 872.5 v4.2 M798.6 1009.5 v-4.2 M798.6 872.5 v4.2 M838.5 1009.5 v-4.2 M838.5 872.5 v4.2 M878.4 1009.5 v-4.2 M878.4 872.5 v4.2 M918.3 1009.5 v-4.2 M918.3 872.5 v4.2 M958.2 1009.5 v-4.2 M958.2 872.5 v4.2 M998.2 1009.5 v-4.2 M998.2 872.5 v4.2 M1038.1 1009.5 v-4.2 M1038.1 872.5 v4.2 M1078.0 1009.5 v-4.2 M1078.0 872.5 v4.2 M1117.9 1009.5 v-4.2 M1117.9 872.5 v4.2 M1157.8 1009.5 v-4.2 M1157.8 872.5 v4.2" stroke="#484848" stroke-width="0.9" fill="none"/>
<g class="sans" font-size="10" fill="#111" stroke="#111" stroke-width="0.15">
<text x="755.1" y="1013.7" text-anchor="end">0</text>
<text x="755.1" y="986.3" text-anchor="end">0.2</text>
<text x="755.1" y="958.9" text-anchor="end">0.4</text>
<text x="755.1" y="931.5" text-anchor="end">0.6</text>
<text x="755.1" y="904.1" text-anchor="end">0.8</text>
<text x="755.1" y="876.7" text-anchor="end">1</text>
<text x="758.7" y="1024.1" text-anchor="middle">0</text>
<text x="798.6" y="1024.1" text-anchor="middle">0.5</text>
<text x="838.5" y="1024.1" text-anchor="middle">1</text>
<text x="878.4" y="1024.1" text-anchor="middle">1.5</text>
<text x="918.3" y="1024.1" text-anchor="middle">2</text>
<text x="958.2" y="1024.1" text-anchor="middle">2.5</text>
<text x="998.2" y="1024.1" text-anchor="middle">3</text>
<text x="1038.1" y="1024.1" text-anchor="middle">3.5</text>
<text x="1078.0" y="1024.1" text-anchor="middle">4</text>
<text x="1117.9" y="1024.1" text-anchor="middle">4.5</text>
<text x="1157.8" y="1024.1" text-anchor="middle">5</text>
</g>
<clipPath id="cr1"><rect x="758.7" y="871.5" width="400.1" height="139.2"/></clipPath>
<rect x="758.7" y="872.5" width="399.1" height="137.0" fill="none" stroke="#484848" stroke-width="1"/>
<polyline fill="none" stroke="#0072bd" stroke-width="1.9" stroke-linejoin="round" clip-path="url(#cr1)" points="758.6,1009.0 781.1,1008.9 796.7,1008.6 809.1,1008.1 818.4,1007.0 826.2,1006.2 827.8,1004.7 829.3,998.4 830.0,1002.6 831.3,997.0 832.2,999.2 833.1,991.4 834.4,985.3 835.6,991.4 836.4,1002.0 837.6,992.6 838.7,986.4 840.0,974.2 841.7,971.4 842.8,964.8 843.6,958.1 844.2,993.1 845.6,938.1 846.4,915.3 847.2,951.4 848.3,967.0 849.4,990.3 850.6,944.8 851.4,871.7 852.2,903.7 852.8,978.1 853.9,987.0 855.3,909.2 856.1,951.4 856.9,987.0 858.3,905.9 859.1,944.8 860.0,982.0 861.1,973.7 862.8,908.1 863.9,944.8 864.7,972.6 866.1,913.7 867.2,902.0 868.0,942.6 869.2,1002.6 870.6,898.7 871.7,933.7 872.4,977.0 873.6,965.9 874.4,993.1 875.8,944.8 877.2,886.4 878.3,942.6 879.4,947.0 880.6,887.6 881.3,975.9 882.2,958.1 883.3,984.2 884.4,958.1 885.3,877.6 886.4,979.2 887.8,978.7 888.9,958.1 890.9,907.0 891.7,983.1 892.8,951.4 894.2,895.9 895.0,947.0 896.1,997.0 897.2,983.7 898.3,993.7 899.4,967.0 900.2,931.4 901.1,961.4 902.0,967.0 903.3,994.8 904.2,974.2 906.1,953.1 906.9,967.0 908.1,953.7 908.9,1001.4 910.2,972.0 911.7,980.3 913.1,987.0 914.2,1005.9 915.4,991.9 917.2,1000.8 918.3,993.7 919.4,1004.3 920.8,999.9 921.7,1006.1 922.7,1000.8 924.2,998.3 925.2,1006.1 926.3,1003.0 927.4,1006.1 929.2,1003.3 930.6,1006.1 932.3,1007.4 934.1,1006.3 935.9,1008.1 937.2,1005.9 938.6,1009.2 940.3,1006.6 942.1,1009.2 944.8,1008.3 948.3,1009.5 951.9,1008.1 955.4,1009.2 957.2,1007.9 960.8,1009.0 966.1,1008.6 975.0,1009.2 983.9,1009.0 992.8,1009.3 998.1,1008.8 1006.1,1009.5 1015.0,1009.2 1061.1,1009.2 1107.8,1009.2 1158.3,1009.2"/>
<line x1="838.5" y1="872.5" x2="838.5" y2="1009.5" stroke="#ff4a4a" stroke-width="1.8"/>
<line x1="902.3" y1="872.5" x2="902.3" y2="1009.5" stroke="#ff4a4a" stroke-width="1.8"/>
<text class="sans" font-size="10.8" fill="#111" stroke="#111" stroke-width="0.15" y="1042.6"><tspan x="1133.4">×</tspan><tspan x="1140.8">10</tspan><tspan x="1152.7" font-size="8.2" dy="-4.8">6</tspan></text>
<text x="411.4" y="869.0" font-size="16.4" textLength="46.3" lengthAdjust="spacingAndGlyphs" stroke="#000" stroke-width="0.22">Point b</text>
<text x="382.0" y="1042.7" font-size="16.5" textLength="117.8" lengthAdjust="spacingAndGlyphs" stroke="#000" stroke-width="0.22">Sampling number</text>
<text transform="translate(211.4 970.6) rotate(-90)" font-size="16.5" textLength="70.6" lengthAdjust="spacingAndGlyphs" stroke="#000" stroke-width="0.22">Amplitude</text>
<text x="805.4" y="865.5" font-size="16.5" textLength="295.3" lengthAdjust="spacingAndGlyphs" stroke="#000" stroke-width="0.22">Single-Sided Amplitude Spectrum of point b</text>
<text x="942.0" y="1043.8" font-size="16.5" textLength="29" lengthAdjust="spacingAndGlyphs" stroke="#000" stroke-width="0.22">f/Hz</text>
<text transform="translate(737 955.1) rotate(-90)" font-size="16.5" textLength="39.7" lengthAdjust="spacingAndGlyphs" stroke="#000" stroke-width="0.22">|P1(f)|</text>
<rect x="234.3" y="1067.7" width="398.2" height="137.0" fill="#fff" stroke="none"/>
<path d="M234.3 1204.7 h4.2 M632.5 1204.7 h-4.2 M234.3 1177.3 h4.2 M632.5 1177.3 h-4.2 M234.3 1149.9 h4.2 M632.5 1149.9 h-4.2 M234.3 1122.5 h4.2 M632.5 1122.5 h-4.2 M234.3 1095.1 h4.2 M632.5 1095.1 h-4.2 M234.3 1067.7 h4.2 M632.5 1067.7 h-4.2 M313.7 1204.7 v-4.2 M313.7 1067.7 v4.2 M393.4 1204.7 v-4.2 M393.4 1067.7 v4.2 M473.1 1204.7 v-4.2 M473.1 1067.7 v4.2 M552.8 1204.7 v-4.2 M552.8 1067.7 v4.2 M632.5 1204.7 v-4.2 M632.5 1067.7 v4.2" stroke="#484848" stroke-width="0.9" fill="none"/>
<g class="sans" font-size="10" fill="#111" stroke="#111" stroke-width="0.15">
<text x="230.7" y="1208.9" text-anchor="end">0</text>
<text x="230.7" y="1181.5" text-anchor="end">0.2</text>
<text x="230.7" y="1154.1" text-anchor="end">0.4</text>
<text x="230.7" y="1126.7" text-anchor="end">0.6</text>
<text x="230.7" y="1099.3" text-anchor="end">0.8</text>
<text x="230.7" y="1071.9" text-anchor="end">1</text>
<text x="313.7" y="1219.3" text-anchor="middle">500</text>
<text x="393.4" y="1219.3" text-anchor="middle">1000</text>
<text x="473.1" y="1219.3" text-anchor="middle">1500</text>
<text x="552.8" y="1219.3" text-anchor="middle">2000</text>
<text x="632.5" y="1219.3" text-anchor="middle">2500</text>
</g>
<clipPath id="cl2"><rect x="234.3" y="1066.7" width="398.2" height="139.0"/></clipPath>
<rect x="234.3" y="1067.7" width="398.2" height="137.0" fill="none" stroke="#484848" stroke-width="1"/>
<polyline fill="none" stroke="#0072bd" stroke-width="1.7" stroke-linejoin="round" clip-path="url(#cl2)" points="234.6,1133.6 235.2,1133.6 235.7,1133.9 236.2,1134.2 236.7,1134.6 237.2,1135.1 237.7,1135.6 238.2,1136.0 238.8,1136.4 239.3,1136.6 239.8,1136.7 240.3,1136.5 240.8,1136.2 241.3,1135.7 241.9,1135.1 242.4,1134.4 242.9,1133.7 243.4,1133.2 243.9,1132.9 244.4,1132.8 245.0,1132.9 245.6,1133.4 246.1,1134.1 246.7,1134.9 247.2,1135.6 247.8,1136.0 248.3,1136.2 248.9,1136.1 249.4,1135.9 249.9,1135.5 250.4,1135.1 250.9,1134.6 251.4,1134.2 252.0,1133.9 252.5,1133.6 253.0,1133.6 253.5,1133.6 254.0,1133.7 254.6,1133.9 255.1,1134.2 255.6,1134.5 256.1,1134.7 256.6,1134.9 257.1,1135.1 257.7,1135.1 258.2,1135.0 258.8,1134.9 259.3,1134.6 259.9,1134.4 260.4,1134.1 261.0,1133.9 261.6,1133.9 262.1,1134.0 262.6,1134.2 263.1,1134.6 263.7,1135.0 264.2,1135.5 264.7,1135.9 265.2,1136.1 265.8,1136.2 266.3,1136.1 266.8,1135.7 267.3,1135.2 267.8,1134.6 268.3,1134.1 268.8,1133.7 269.3,1133.6 269.9,1133.7 270.4,1134.0 271.0,1134.5 271.6,1135.0 272.1,1135.4 272.7,1135.8 273.2,1135.9 273.8,1135.8 274.3,1135.5 274.9,1135.2 275.4,1134.7 276.0,1134.4 276.6,1134.1 277.1,1134.0 277.6,1134.1 278.1,1134.3 278.7,1134.6 279.2,1134.9 279.7,1135.3 280.2,1135.7 280.7,1135.9 281.3,1136.1 281.8,1136.2 282.3,1136.0 282.9,1135.5 283.4,1134.7 284.0,1133.8 284.6,1133.0 285.1,1132.5 285.7,1132.3 286.2,1132.5 286.8,1133.2 287.3,1134.2 287.9,1135.3 288.4,1136.2 289.0,1136.9 289.6,1137.1 290.1,1136.9 290.7,1136.2 291.2,1135.3 291.8,1134.2 292.3,1133.2 292.9,1132.5 293.4,1132.3 294.0,1132.6 294.6,1133.2 295.2,1134.1 295.7,1135.0 296.3,1135.6 296.9,1135.9 297.4,1135.8 298.0,1135.7 298.5,1135.4 299.0,1135.1 299.6,1134.8 300.1,1134.6 300.7,1134.4 301.2,1134.3 301.7,1134.5 302.3,1134.9 302.8,1135.1 303.3,1134.9 303.9,1134.4 304.5,1133.7 305.1,1133.0 305.6,1132.5 306.2,1132.3 306.7,1132.6 307.2,1133.4 307.7,1134.6 308.2,1135.9 308.8,1137.1 309.3,1137.9 309.8,1138.2 310.3,1137.7 310.9,1136.2 311.5,1134.2 312.1,1132.2 312.6,1130.7 313.2,1130.1 313.7,1130.5 314.2,1131.7 314.7,1133.3 315.2,1135.1 315.8,1136.7 316.3,1137.8 316.8,1138.2 317.3,1137.9 317.8,1136.9 318.3,1135.5 318.9,1134.1 319.4,1133.1 319.9,1132.8 320.4,1133.1 321.0,1133.9 321.6,1134.8 322.1,1135.6 322.7,1135.9 323.2,1135.6 323.7,1134.6 324.2,1133.4 324.8,1132.2 325.3,1131.2 325.8,1130.9 326.3,1131.5 326.8,1133.2 327.4,1135.6 327.9,1137.9 328.4,1139.6 328.9,1140.2 329.5,1139.9 330.0,1139.0 330.5,1137.6 331.1,1135.8 331.6,1133.8 332.2,1131.8 332.7,1130.0 333.3,1128.6 333.8,1127.6 334.4,1127.3 334.9,1128.1 335.4,1130.2 335.9,1133.6 336.4,1137.6 336.9,1141.9 337.5,1146.0 338.0,1149.3 338.5,1151.5 339.0,1152.2 339.5,1150.2 340.1,1144.5 340.6,1136.0 341.1,1126.0 341.6,1116.0 342.2,1107.5 342.7,1101.8 343.2,1099.8 343.7,1104.2 344.2,1116.4 344.8,1134.1 345.3,1153.7 345.8,1171.4 346.3,1183.6 346.8,1188.0 347.4,1182.1 347.9,1165.5 348.5,1141.4 349.0,1114.8 349.6,1090.8 350.1,1074.2 350.7,1068.2 351.2,1075.0 351.8,1093.9 352.4,1121.3 352.9,1151.6 353.5,1179.0 354.0,1197.9 354.6,1204.6 355.1,1198.1 355.6,1179.9 356.2,1153.6 356.7,1124.4 357.2,1098.1 357.8,1079.9 358.3,1073.4 358.8,1078.6 359.3,1093.2 359.8,1114.4 360.4,1137.9 360.9,1159.1 361.4,1173.7 361.9,1179.0 362.4,1175.5 363.0,1165.8 363.6,1151.8 364.1,1136.3 364.7,1122.3 365.2,1112.6 365.8,1109.1 366.3,1111.0 366.9,1116.1 367.4,1123.5 368.0,1131.7 368.6,1139.1 369.1,1144.2 369.7,1146.0 370.2,1145.4 370.7,1143.8 371.2,1141.2 371.7,1138.1 372.3,1134.8 372.8,1131.6 373.3,1129.1 373.8,1127.4 374.3,1126.9 374.9,1127.5 375.4,1129.2 376.0,1131.6 376.6,1134.3 377.1,1136.7 377.7,1138.4 378.2,1139.0 378.8,1137.7 379.4,1134.7 380.0,1131.7 380.6,1130.4 381.1,1131.1 381.6,1132.8 382.1,1135.1 382.6,1137.4 383.1,1139.2 383.7,1139.8 384.2,1139.0 384.8,1136.9 385.4,1134.1 385.9,1131.3 386.5,1129.2 387.1,1128.4 387.6,1129.2 388.2,1131.4 388.7,1134.3 389.3,1137.3 389.8,1139.5 390.4,1140.2 390.9,1139.6 391.5,1137.9 392.1,1135.5 392.6,1133.1 393.2,1131.4 393.8,1130.8 394.3,1131.2 394.8,1132.2 395.3,1133.7 395.9,1135.2 396.4,1136.3 396.9,1136.7 397.4,1136.6 398.0,1136.3 398.6,1135.9 399.1,1135.4 399.7,1135.0 400.2,1134.7 400.8,1134.6 401.3,1134.6 401.8,1134.6 402.3,1134.5 402.9,1134.4 403.4,1134.3 403.9,1134.2 404.4,1134.1 404.9,1134.0 405.4,1134.0 406.0,1134.2 406.6,1134.5 407.1,1135.0 407.7,1135.6 408.2,1136.2 408.8,1136.5 409.3,1136.7 409.9,1136.4 410.4,1135.7 411.0,1134.7 411.6,1133.6 412.1,1132.6 412.7,1131.9 413.2,1131.7 413.8,1131.8 414.3,1132.3 414.9,1133.0 415.4,1133.8 415.9,1134.8 416.5,1135.8 417.0,1136.6 417.6,1137.3 418.1,1137.8 418.7,1137.9 419.2,1137.7 419.7,1137.0 420.2,1135.9 420.7,1134.5 421.2,1133.0 421.7,1131.5 422.3,1130.1 422.8,1129.0 423.3,1128.4 423.8,1128.1 424.3,1129.2 424.8,1132.4 425.4,1136.9 425.9,1142.0 426.4,1146.5 426.9,1149.7 427.4,1150.8 428.0,1149.3 428.5,1145.1 429.0,1138.7 429.5,1131.3 430.0,1123.8 430.5,1117.4 431.0,1113.2 431.5,1111.7 432.0,1114.3 432.5,1121.4 433.1,1131.8 433.6,1143.3 434.1,1153.6 434.6,1160.8 435.1,1163.4 435.6,1160.5 436.2,1152.5 436.7,1141.0 437.2,1128.2 437.8,1116.7 438.3,1108.7 438.9,1105.8 439.4,1109.3 439.9,1118.8 440.5,1131.8 441.0,1144.7 441.6,1154.2 442.1,1157.7 442.6,1155.8 443.1,1150.7 443.6,1143.2 444.2,1135.0 444.7,1127.5 445.2,1122.4 445.7,1120.5 446.3,1121.8 446.8,1125.3 447.4,1130.1 448.0,1134.9 448.5,1138.5 449.1,1139.7 449.8,1138.5 450.4,1136.1 451.1,1134.9 451.6,1135.5 452.2,1136.7 452.7,1137.3 453.2,1136.6 453.8,1134.6 454.3,1132.0 454.9,1129.4 455.4,1127.4 456.0,1126.7 456.5,1127.8 457.0,1131.0 457.6,1135.3 458.1,1139.5 458.7,1142.7 459.2,1143.8 459.7,1142.9 460.2,1140.2 460.8,1136.4 461.3,1132.2 461.8,1128.3 462.3,1125.7 462.8,1124.7 463.4,1126.6 464.0,1131.3 464.6,1137.2 465.2,1142.0 465.7,1143.8 466.3,1142.9 466.8,1140.3 467.3,1136.7 467.8,1132.6 468.3,1128.9 468.8,1126.3 469.3,1125.4 469.9,1126.4 470.4,1129.3 471.0,1133.2 471.5,1137.1 472.0,1140.0 472.6,1141.0 473.1,1140.4 473.7,1138.7 474.2,1136.2 474.7,1133.5 475.3,1131.0 475.8,1129.3 476.3,1128.7 476.9,1129.3 477.4,1131.0 478.0,1133.4 478.5,1135.7 479.0,1137.5 479.6,1138.1 480.1,1137.7 480.7,1136.4 481.2,1134.7 481.8,1133.0 482.3,1131.7 482.9,1131.3 483.4,1131.5 483.9,1132.2 484.5,1133.1 485.0,1134.0 485.6,1134.6 486.1,1134.9 486.7,1135.2 487.2,1136.3 487.7,1137.7 488.3,1139.1 488.8,1140.2 489.4,1140.6 489.9,1139.7 490.4,1137.2 491.0,1133.6 491.5,1129.6 492.0,1126.0 492.6,1123.5 493.1,1122.6 493.7,1124.5 494.2,1129.6 494.7,1136.5 495.3,1143.4 495.8,1148.5 496.4,1150.3 496.9,1148.7 497.5,1144.0 498.1,1137.3 498.6,1129.9 499.2,1123.2 499.7,1118.6 500.3,1116.9 500.8,1118.6 501.4,1123.2 501.9,1129.9 502.4,1137.3 503.0,1144.0 503.5,1148.7 504.0,1150.3 504.6,1148.9 505.1,1144.9 505.6,1139.1 506.2,1132.7 506.7,1126.9 507.2,1122.9 507.8,1121.5 508.3,1123.0 508.9,1127.1 509.4,1132.7 510.0,1138.2 510.5,1142.3 511.0,1143.8 511.6,1142.8 512.1,1140.0 512.7,1136.2 513.2,1132.4 513.8,1129.7 514.3,1128.7 514.9,1129.2 515.4,1130.7 516.0,1133.0 516.5,1135.4 517.1,1137.7 517.7,1139.2 518.2,1139.7 518.7,1139.3 519.3,1138.2 519.8,1136.5 520.3,1134.4 520.9,1132.4 521.4,1130.7 521.9,1129.6 522.5,1129.1 523.0,1129.8 523.6,1131.6 524.1,1134.2 524.7,1137.1 525.2,1139.7 525.8,1141.5 526.4,1142.2 526.9,1141.6 527.4,1139.8 528.0,1137.2 528.5,1134.0 529.0,1130.9 529.5,1128.3 530.1,1126.5 530.6,1125.9 531.1,1126.6 531.7,1128.6 532.2,1131.6 532.8,1135.1 533.3,1138.6 533.9,1141.6 534.4,1143.6 535.0,1144.3 535.5,1143.5 536.0,1141.1 536.5,1137.4 537.0,1132.9 537.5,1128.0 538.0,1123.5 538.5,1119.8 539.1,1117.4 539.6,1116.6 540.1,1118.7 540.6,1124.6 541.1,1133.1 541.6,1142.5 542.1,1151.0 542.6,1156.9 543.1,1159.0 543.7,1156.5 544.2,1149.5 544.8,1139.5 545.3,1128.3 545.8,1118.2 546.4,1111.3 546.9,1108.8 547.4,1112.0 548.0,1120.7 548.5,1132.6 549.1,1144.5 549.6,1153.2 550.2,1156.4 550.7,1154.5 551.2,1149.2 551.7,1141.7 552.2,1133.3 552.7,1125.7 553.2,1120.4 553.7,1118.6 554.3,1121.2 554.9,1128.0 555.5,1136.5 556.1,1143.3 556.7,1145.9 557.2,1144.6 557.8,1140.8 558.3,1135.7 558.8,1130.5 559.4,1126.8 559.9,1125.4 560.5,1126.5 561.0,1129.4 561.6,1133.4 562.1,1137.4 562.6,1140.3 563.2,1141.4 563.7,1140.6 564.3,1138.6 564.8,1135.8 565.4,1133.1 565.9,1131.0 566.5,1130.3 567.0,1130.5 567.5,1131.0 568.0,1131.7 568.5,1132.7 569.1,1133.8 569.6,1134.9 570.1,1135.9 570.6,1136.6 571.1,1137.1 571.7,1137.3 572.2,1137.2 572.7,1136.8 573.2,1136.3 573.7,1135.6 574.3,1134.8 574.8,1134.0 575.3,1133.3 575.8,1132.6 576.3,1132.0 576.9,1131.7 577.4,1131.6 577.9,1131.9 578.4,1132.8 578.9,1134.1 579.4,1135.7 579.9,1137.2 580.4,1138.5 580.9,1139.4 581.4,1139.7 582.0,1139.2 582.5,1137.8 583.0,1135.6 583.5,1133.1 584.0,1130.5 584.5,1128.3 585.0,1126.9 585.5,1126.4 586.1,1127.5 586.6,1130.7 587.1,1135.1 587.7,1139.5 588.2,1142.6 588.8,1143.8 589.3,1142.9 589.8,1140.3 590.4,1136.5 590.9,1132.4 591.5,1128.6 592.0,1126.0 592.5,1125.1 593.1,1126.3 593.6,1129.8 594.2,1134.4 594.7,1139.1 595.2,1142.6 595.8,1143.8 596.3,1143.0 596.8,1140.7 597.3,1137.3 597.8,1133.6 598.3,1130.2 598.9,1127.9 599.4,1127.0 600.0,1128.2 600.5,1131.4 601.1,1135.3 601.7,1138.5 602.3,1139.7 602.9,1138.8 603.4,1136.5 604.0,1133.6 604.5,1131.2 605.1,1130.3 605.6,1131.0 606.2,1132.9 606.7,1135.4 607.2,1138.0 607.8,1139.9 608.3,1140.6 608.9,1139.6 609.4,1136.9 610.0,1133.2 610.5,1129.6 611.0,1126.9 611.6,1125.9 612.1,1127.1 612.7,1130.5 613.2,1135.1 613.8,1139.7 614.3,1143.1 614.9,1144.3 615.4,1143.6 615.9,1141.4 616.4,1138.3 616.9,1134.5 617.4,1130.8 617.9,1127.6 618.4,1125.5 618.9,1124.7 619.5,1126.0 620.0,1129.3 620.6,1133.9 621.1,1138.4 621.6,1141.8 622.2,1143.0 622.7,1142.5 623.2,1141.0 623.7,1138.7 624.2,1136.1 624.7,1133.4 625.2,1131.2 625.7,1129.7 626.3,1129.1 626.8,1129.7 627.3,1131.2 627.9,1133.2 628.4,1135.3 629.0,1136.7 629.5,1137.3 630.1,1137.1 630.7,1136.5 631.3,1135.7 631.9,1135.1 632.5,1134.9"/>
<rect x="758.7" y="1067.7" width="399.1" height="137.0" fill="#fff" stroke="none"/>
<path d="M758.7 1204.7 h4.2 M1157.8 1204.7 h-4.2 M758.7 1177.3 h4.2 M1157.8 1177.3 h-4.2 M758.7 1149.9 h4.2 M1157.8 1149.9 h-4.2 M758.7 1122.5 h4.2 M1157.8 1122.5 h-4.2 M758.7 1095.1 h4.2 M1157.8 1095.1 h-4.2 M758.7 1067.7 h4.2 M1157.8 1067.7 h-4.2 M758.7 1204.7 v-4.2 M758.7 1067.7 v4.2 M798.6 1204.7 v-4.2 M798.6 1067.7 v4.2 M838.5 1204.7 v-4.2 M838.5 1067.7 v4.2 M878.4 1204.7 v-4.2 M878.4 1067.7 v4.2 M918.3 1204.7 v-4.2 M918.3 1067.7 v4.2 M958.2 1204.7 v-4.2 M958.2 1067.7 v4.2 M998.2 1204.7 v-4.2 M998.2 1067.7 v4.2 M1038.1 1204.7 v-4.2 M1038.1 1067.7 v4.2 M1078.0 1204.7 v-4.2 M1078.0 1067.7 v4.2 M1117.9 1204.7 v-4.2 M1117.9 1067.7 v4.2 M1157.8 1204.7 v-4.2 M1157.8 1067.7 v4.2" stroke="#484848" stroke-width="0.9" fill="none"/>
<g class="sans" font-size="10" fill="#111" stroke="#111" stroke-width="0.15">
<text x="755.1" y="1208.9" text-anchor="end">0</text>
<text x="755.1" y="1181.5" text-anchor="end">0.2</text>
<text x="755.1" y="1154.1" text-anchor="end">0.4</text>
<text x="755.1" y="1126.7" text-anchor="end">0.6</text>
<text x="755.1" y="1099.3" text-anchor="end">0.8</text>
<text x="755.1" y="1071.9" text-anchor="end">1</text>
<text x="758.7" y="1219.3" text-anchor="middle">0</text>
<text x="798.6" y="1219.3" text-anchor="middle">0.5</text>
<text x="838.5" y="1219.3" text-anchor="middle">1</text>
<text x="878.4" y="1219.3" text-anchor="middle">1.5</text>
<text x="918.3" y="1219.3" text-anchor="middle">2</text>
<text x="958.2" y="1219.3" text-anchor="middle">2.5</text>
<text x="998.2" y="1219.3" text-anchor="middle">3</text>
<text x="1038.1" y="1219.3" text-anchor="middle">3.5</text>
<text x="1078.0" y="1219.3" text-anchor="middle">4</text>
<text x="1117.9" y="1219.3" text-anchor="middle">4.5</text>
<text x="1157.8" y="1219.3" text-anchor="middle">5</text>
</g>
<clipPath id="cr2"><rect x="758.7" y="1066.7" width="400.1" height="139.2"/></clipPath>
<rect x="758.7" y="1067.7" width="399.1" height="137.0" fill="none" stroke="#484848" stroke-width="1"/>
<polyline fill="none" stroke="#0072bd" stroke-width="1.9" stroke-linejoin="round" clip-path="url(#cr2)" points="758.6,1204.6 781.1,1204.0 796.7,1203.4 812.2,1202.8 818.4,1201.2 823.1,1202.0 826.2,1201.2 827.8,1196.6 829.3,1191.9 830.0,1195.3 831.7,1193.1 833.1,1197.0 834.4,1186.4 835.6,1192.0 836.9,1194.8 838.0,1178.7 839.1,1188.1 840.2,1163.7 841.7,1172.0 843.3,1152.6 844.2,1182.6 845.6,1162.0 846.4,1150.9 847.2,1173.1 848.3,1088.7 849.4,1193.7 850.2,1145.3 851.7,1139.8 853.1,1115.3 854.2,1128.7 855.6,1067.0 856.7,1130.9 857.6,1150.9 858.7,1171.4 859.8,1169.2 860.6,1172.0 862.2,1153.1 863.3,1165.3 865.3,1094.2 866.4,1153.1 867.6,1166.4 868.7,1148.7 869.4,1153.1 870.6,1100.3 872.0,1148.7 872.8,1139.8 873.9,1119.8 875.2,1077.6 876.1,1150.9 877.2,1130.9 878.3,1099.8 879.4,1139.8 880.2,1172.0 881.3,1094.2 882.2,1168.7 883.3,1150.9 884.4,1130.9 886.4,1095.3 887.2,1115.3 888.3,1153.1 889.4,1175.3 890.6,1198.1 891.7,1183.1 893.3,1105.9 894.4,1179.8 895.3,1190.3 896.7,1159.8 897.8,1182.6 899.1,1158.7 900.2,1147.0 901.1,1178.7 902.0,1164.2 903.1,1199.8 904.2,1193.1 905.6,1184.2 907.4,1154.2 908.7,1182.0 910.2,1202.6 912.3,1175.8 914.1,1190.4 915.9,1190.9 917.2,1199.3 919.0,1203.8 920.3,1198.4 921.7,1203.3 923.0,1198.9 924.8,1203.8 926.1,1199.3 927.9,1203.1 929.7,1201.1 931.4,1204.2 933.2,1200.2 935.0,1203.6 937.2,1201.6 939.4,1203.8 941.2,1201.8 943.4,1204.0 945.7,1202.0 948.3,1203.8 951.0,1202.2 953.7,1203.6 956.3,1201.6 958.6,1203.3 960.8,1202.0 964.3,1204.2 967.9,1203.6 973.2,1204.3 979.4,1203.6 985.7,1204.3 992.8,1203.8 999.9,1204.2 1006.1,1204.5 1015.0,1203.8 1061.1,1204.2 1107.8,1204.2 1158.3,1204.2"/>
<line x1="838.5" y1="1067.7" x2="838.5" y2="1204.7" stroke="#ff4a4a" stroke-width="1.8"/>
<line x1="902.3" y1="1067.7" x2="902.3" y2="1204.7" stroke="#ff4a4a" stroke-width="1.8"/>
<text class="sans" font-size="10.8" fill="#111" stroke="#111" stroke-width="0.15" y="1237.8"><tspan x="1133.4">×</tspan><tspan x="1140.8">10</tspan><tspan x="1152.7" font-size="8.2" dy="-4.8">6</tspan></text>
<text x="406.0" y="1064.7" font-size="16.4" textLength="46.3" lengthAdjust="spacingAndGlyphs" stroke="#000" stroke-width="0.22">Point c</text>
<text x="383.7" y="1237.6" font-size="16.5" textLength="117.8" lengthAdjust="spacingAndGlyphs" stroke="#000" stroke-width="0.22">Sampling number</text>
<text transform="translate(211.4 1165.8) rotate(-90)" font-size="16.5" textLength="70.6" lengthAdjust="spacingAndGlyphs" stroke="#000" stroke-width="0.22">Amplitude</text>
<text x="805.4" y="1060.7" font-size="16.5" textLength="295.3" lengthAdjust="spacingAndGlyphs" stroke="#000" stroke-width="0.22">Single-Sided Amplitude Spectrum of point c</text>
<text x="939.6" y="1237.9" font-size="16.5" textLength="29" lengthAdjust="spacingAndGlyphs" stroke="#000" stroke-width="0.22">f/Hz</text>
<text transform="translate(737 1152.1) rotate(-90)" font-size="16.5" textLength="39.7" lengthAdjust="spacingAndGlyphs" stroke="#000" stroke-width="0.22">|P1(f)|</text>
<g fill="#ff0000" font-size="22.6" stroke="#ff0000" stroke-width="0.25">
<text x="331.6" y="696.2">R</text>
<text x="355.3" y="902.0">R</text>
<text x="363.0" y="1091.7">R</text>
<text x="446.0" y="728.8">rR</text>
<text x="431.5" y="910.7">rR</text>
<text x="415.8" y="1098.7">rR</text>
<text transform="translate(815 780.3) rotate(-90)" font-size="19.7" textLength="51.8" lengthAdjust="spacingAndGlyphs">1 MHz</text>
<text transform="translate(934 780.3) rotate(-90)" font-size="19.7" textLength="65.4" lengthAdjust="spacingAndGlyphs">1.8 MHz</text>
<text transform="translate(815 982.1) rotate(-90)" font-size="19.7" textLength="51.8" lengthAdjust="spacingAndGlyphs">1 MHz</text>
<text transform="translate(934 984.8) rotate(-90)" font-size="19.7" textLength="65.4" lengthAdjust="spacingAndGlyphs">1.8 MHz</text>
<text transform="translate(815 1169.1) rotate(-90)" font-size="19.7" textLength="51.5" lengthAdjust="spacingAndGlyphs">1 MHz</text>
<text transform="translate(934 1175.1) rotate(-90)" font-size="19.7" textLength="65.7" lengthAdjust="spacingAndGlyphs">1.8 MHz</text>
</g>
<line x1="316.2" y1="650.6" x2="364.5" y2="1253.6" stroke="#ffc000" stroke-width="3"/>
<line x1="480.2" y1="638.9" x2="432.3" y2="1232.7" stroke="#ffc000" stroke-width="3"/>
<text x="218.5" y="1323" font-size="44.2" stroke="#000" stroke-width="0.45" textLength="913" lengthAdjust="spacingAndGlyphs">(b) Scanning point time-domain signal and spectrum</text>
</svg>
</body></html>
